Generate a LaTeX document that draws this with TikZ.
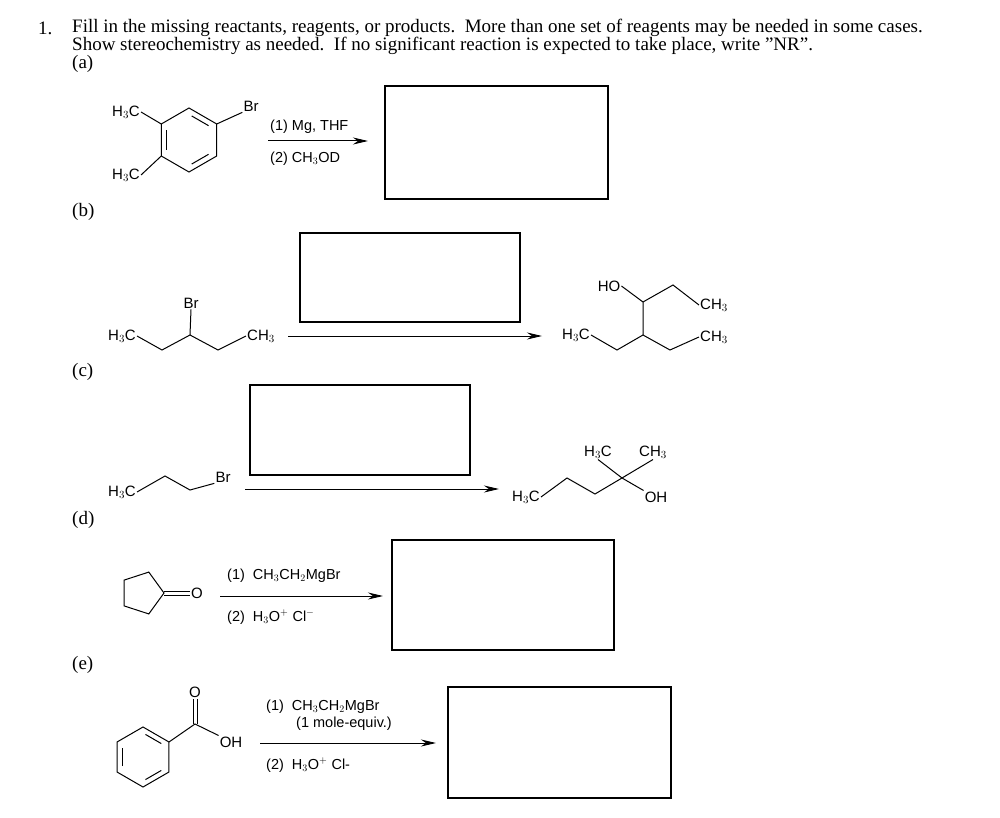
\documentclass[tikz,border=0pt]{standalone}
\usepackage{fontspec}
\setmainfont{Liberation Serif}
\newfontfamily\arialf{Liberation Sans}
\usetikzlibrary{arrows.meta,calc}
\begin{document}
\begin{tikzpicture}[x=1pt,y=-1pt,
  lbl/.style={font=\arialf\fontsize{15}{15}\selectfont,inner sep=1pt},
  rg/.style={font=\arialf\fontsize{14.5}{17}\selectfont,inner sep=0pt,anchor=west},
  txt/.style={font=\fontsize{19}{22}\selectfont,inner sep=0pt,anchor=west},
  bd/.style={line width=1pt},
  ans/.style={draw,line width=1.1pt},
  rx/.style={line width=1pt,-{Stealth[length=15pt,width=7pt]}}]
\useasboundingbox (0,0) rectangle (1000,818);
% header
\node[txt] (n1) at (38,28) {1.};
\node[txt] (t1) at (72,28) {Fill in the missing reactants, reagents, or products.\ \ More than one set of reagents may be needed in some cases.};
\node[txt] (t2) at (72,46) {Show stereochemistry as needed.\ \ If no significant reaction is expected to take place, write \symbol{34}NR\symbol{34}.};
\node[txt] (la) at (72,64) {(a)};
\node[txt] (lb) at (72,212) {(b)};
\node[txt] (lc) at (72,372) {(c)};
\node[txt] (ld) at (72,520) {(d)};
\node[txt] (le) at (72,665) {(e)};
% (a)
\coordinate (Ac) at (189,140);
\foreach \i/\a in {1/90,2/30,3/-30,4/-90,5/-150,6/150}
  \coordinate (A\i) at ($(Ac)+(\a:32 and -32)$);
\draw[bd] (A1)--(A2)--(A3)--(A4)--(A5)--(A6)--cycle;
\foreach \p/\q in {1/2,3/4,5/6}
  \draw[bd] ($(Ac)!0.8!($(A\p)!0.12!(A\q)$)$) -- ($(Ac)!0.8!($(A\q)!0.12!(A\p)$)$);
\node[lbl] (Br1) at (251,106) {Br};
\node[lbl] (Me1) at (126,112) {H$_3$C};
\node[lbl] (Me2) at (126,175) {H$_3$C};
\draw[bd] (A2) -- (Br1.south west);
\draw[bd] (A6) -- (Me1.east);
\draw[bd] (A5) -- (Me2.east);
\node[ans,minimum width=223pt,minimum height=113pt] (boxa) at (496.5,142.5) {};
\coordinate (a1) at (268,141); \coordinate (a2) at (368,141);
\draw[rx] (a1) -- (a2);
\node[rg] (ra1) at (270,127) {(1) Mg, THF};
\node[rg] (ra2) at (270,159) {(2) CH$_3$OD};
% (b)
\node[lbl] (b1) at (122,336) {H$_3$C};
\coordinate (bc1) at (162,350); \coordinate (bc2) at (190,335);
\coordinate (bc3) at (218,350);
\node[lbl] (bBr) at (191,303) {Br};
\node[lbl] (b2) at (261,336) {CH$_3$};
\draw[bd] (b1.east) -- (bc1) -- (bc2) -- (bc3) -- (b2.west);
\draw[bd] (bc2) -- (bBr.south);
\node[ans,minimum width=220pt,minimum height=89pt] (boxb) at (410,277.5) {};
\coordinate (b3) at (288,336); \coordinate (b4) at (542,336);
\draw[rx] (b3) -- (b4);
\node[lbl] (p1) at (576,335) {H$_3$C};
\coordinate (pc1) at (617,350); \coordinate (pc2) at (643,335);
\coordinate (pc3) at (670,350); \coordinate (pc4) at (643,302);
\coordinate (pc5) at (673,285);
\node[lbl] (p2) at (714,337) {CH$_3$};
\node[lbl] (p3) at (714,305) {CH$_3$};
\node[lbl] (pOH) at (609,286) {HO};
\draw[bd] (p1.east) -- (pc1) -- (pc2) -- (pc3) -- (p2.west);
\draw[bd] (pc2) -- (pc4) -- (pc5) -- (p3.west);
\draw[bd] (pc4) -- (pOH.east);
% (c)
\node[lbl] (c1) at (122,492) {H$_3$C};
\coordinate (cc1) at (165,476); \coordinate (cc2) at (190,490);
\node[lbl] (cBr) at (223,477) {Br};
\draw[bd] (c1.east) -- (cc1) -- (cc2) -- (cBr.south west);
\node[ans,minimum width=220pt,minimum height=90pt] (boxc) at (360,430) {};
\coordinate (c3) at (245,489); \coordinate (c4) at (499,489);
\draw[rx] (c3) -- (c4);
\node[lbl] (q1) at (526,497) {H$_3$C};
\coordinate (qc1) at (567,478); \coordinate (qc2) at (595,494);
\coordinate (qc3) at (622,478);
\node[lbl] (q2) at (598,452) {H$_3$C};
\node[lbl] (q3) at (653,452) {CH$_3$};
\node[lbl] (qOH) at (656,497) {OH};
\draw[bd] (q1.east) -- (qc1) -- (qc2) -- (qc3) -- (qOH.north west);
\draw[bd] (qc3) -- (q2.south);
\draw[bd] (qc3) -- (q3.south);
% (d)
\foreach \i/\a in {1/0,2/72,3/144,4/216,5/288}
  \coordinate (D\i) at ($(142,593)+(\a:22 and -22)$);
\draw[bd] (D1)--(D2)--(D3)--(D4)--(D5)--cycle;
\node[lbl] (dO) at (197,593) {O};
\draw[bd] ($(D1)+(0,-2)$) -- ($(dO.west)+(0,-2)$);
\draw[bd] ($(D1)+(0,2)$) -- ($(dO.west)+(0,2)$);
\coordinate (d1) at (220,596); \coordinate (d2) at (383,596);
\draw[rx] (d1) -- (d2);
\node[rg] (rd1) at (227,576) {(1)\ \ CH$_3$CH$_2$MgBr};
\node[rg] (rd2) at (227,617) {(2)\ \ H$_3$O$^+$ Cl$^-$};
\node[ans,minimum width=222pt,minimum height=110pt] (boxd) at (503,595) {};
% (e)
\coordinate (Ec) at (143,757);
\foreach \i/\a in {1/90,2/30,3/-30,4/-90,5/-150,6/150}
  \coordinate (E\i) at ($(Ec)+(\a:30 and -30)$);
\draw[bd] (E1)--(E2)--(E3)--(E4)--(E5)--(E6)--cycle;
\foreach \p/\q in {1/2,3/4,5/6}
  \draw[bd] ($(Ec)!0.8!($(E\p)!0.12!(E\q)$)$) -- ($(Ec)!0.8!($(E\q)!0.12!(E\p)$)$);
\coordinate (ec) at (195,724);
\node[lbl] (eO) at (195,692) {O};
\node[lbl] (eOH) at (231,742) {OH};
\draw[bd] (E2) -- (ec) -- (eOH.north west);
\draw[bd] ($(ec)+(-2,0)$) -- ($(eO.south)+(-2,0)$);
\draw[bd] ($(ec)+(2,0)$) -- ($(eO.south)+(2,0)$);
\coordinate (e1) at (260,743); \coordinate (e2) at (436,743);
\draw[rx] (e1) -- (e2);
\node[rg] (re1) at (266,707) {(1)\ \ CH$_3$CH$_2$MgBr};
\node[rg] (re2) at (296,724) {(1 mole-equiv.)};
\node[rg] (re3) at (266,765) {(2)\ \ H$_3$O$^+$ Cl-};
\node[ans,minimum width=223pt,minimum height=111pt] (boxe) at (559.5,742.5) {};
\end{tikzpicture}
\end{document}
